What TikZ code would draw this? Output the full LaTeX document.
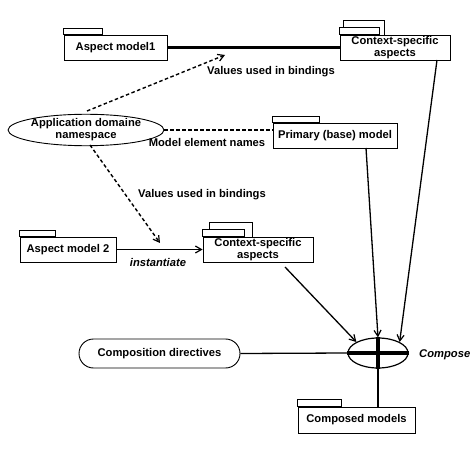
\documentclass[tikz,border=0pt]{standalone}
\usepackage{fontspec}
\setmainfont{Liberation Sans}
\usetikzlibrary{arrows.meta,shapes.geometric}
\tikzset{
  pkg/.style={draw,fill=white,line width=0.9pt,minimum height=25pt,inner sep=1pt,align=center,font=\bfseries\fontsize{11.2}{11.8}\selectfont},
  lbl/.style={font=\bfseries\fontsize{11.2}{12}\selectfont,inner sep=1pt},
  ilbl/.style={font=\bfseries\itshape\fontsize{11.2}{12}\selectfont,inner sep=1pt},
  conn/.style={line width=1.3pt},
  dconn/.style={line width=1.4pt,dash pattern=on 3.5pt off 2.5pt},
  tip/.style={-{Straight Barb[length=6pt,width=7pt,line width=1.2pt]}},
  tabline/.style={line width=0.9pt}
}
\begin{document}
\begin{tikzpicture}[x=1pt,y=-1pt]
\useasboundingbox (0,0) rectangle (474,457);
% package nodes
\node[pkg,minimum width=103pt] (am1) at (115.5,47.5) {Aspect model1};
\node[pkg,minimum width=110pt] (csa1) at (395,47.5) {Context-specific\\aspects};
\node[pkg,minimum width=124pt] (prim) at (335,135.5) {Primary (base) model};
\node[pkg,minimum width=96pt] (am2) at (68,249.5) {Aspect model 2};
\node[pkg,minimum width=110pt] (csa2) at (258,249.5) {Context-specific\\aspects};
\node[pkg,minimum width=117pt,minimum height=26pt] (cm) at (356.5,420) {Composed models};
% other nodes
\node[draw,ellipse,fill=white,line width=0.9pt,minimum width=146pt,minimum height=31pt,inner sep=0pt,align=center,font=\bfseries\fontsize{11.2}{11.8}\selectfont] (adn) at (86,130) {Application domaine\\namespace};
\node[draw,rounded corners=14.5pt,fill=white,line width=0.9pt,minimum width=161pt,minimum height=29pt,font=\bfseries\fontsize{11.2}{12}\selectfont] (cd) at (159.5,353.5) {Composition directives};
\node[draw,ellipse,fill=white,line width=1.2pt,minimum width=60pt,minimum height=30pt,inner sep=0pt] (comp) at (378,353) {};
% tabs
\draw[tabline] (am1.north west) rectangle ++(39,-6);
\draw[tabline] (prim.north west) rectangle ++(47,-6);
\draw[tabline] (am2.north west) rectangle ++(36,-6);
\draw[tabline] (cm.north west) rectangle ++(44,-7);
\draw[tabline] (csa1.north west) rectangle ++(40,-7);
\draw[tabline] ([shift={(4,-7)}]csa1.north west) -- ++(0,-7) -- ++(41,0) -- ++(0,14);
\draw[tabline] (csa2.north west) rectangle ++(42,-7);
\draw[tabline] ([shift={(7,-7)}]csa2.north west) -- ++(0,-7) -- ++(43,0) -- ++(0,14);
% free-end coordinates
\coordinate (t1) at (225,55);
\coordinate (t2) at (160,243);
\coordinate (s1) at (87,111);
\coordinate (s2) at (90,145);
\coordinate (p1) at (366,148);
\coordinate (c1) at (437,60);
\coordinate (c2) at (285,267);
% connectors
\draw[line width=2.2pt] (am1.east) -- (csa1.west);
\draw[dconn,tip] (s1) -- (t1);
\draw[dconn] (adn.east) -- (prim.west |- adn.east);
\draw[dconn,tip] (s2) -- (t2);
\draw[conn,tip] (am2.east) -- (csa2.west);
\draw[conn,tip] (p1) -- (comp.north);
\draw[conn,tip] (c1) -- (comp.north east);
\draw[conn,tip] (c2) -- (comp.north west);
\draw[conn] (cd.east) -- (comp.west);
\draw[conn] (comp.south) -- (comp.south |- cm.north);
\draw[line width=3.2pt] (comp.west) -- (comp.east);
\draw[line width=3.2pt] (comp.north) -- (comp.south);
% labels
\node[lbl] (l1) at (271,72) {Values used in bindings};
\node[lbl] (l2) at (207,142) {Model element names};
\node[lbl] (l3) at (202,195) {Values used in bindings};
\node[ilbl] (l4) at (158,262) {instantiate};
\node[ilbl,anchor=west] (l5) at (418,355) {Compose};
\end{tikzpicture}
\end{document}
